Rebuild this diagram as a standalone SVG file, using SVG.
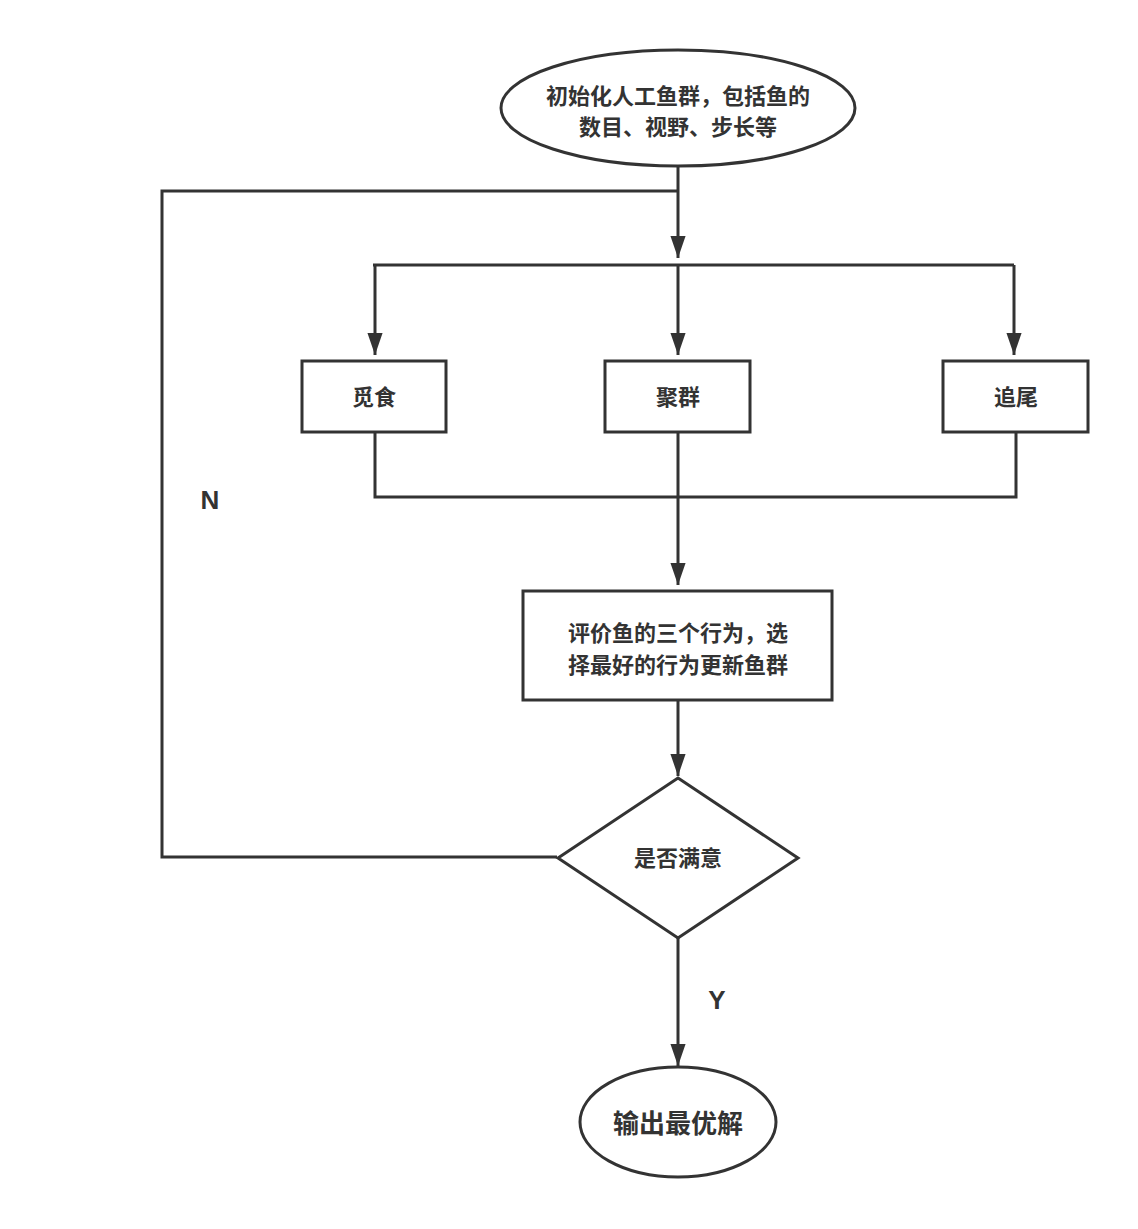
<svg xmlns="http://www.w3.org/2000/svg" width="1138" height="1229" viewBox="0 0 1138 1229">
<style>
.s{fill:#fff;stroke:#333;stroke-width:3}
.l{fill:none;stroke:#333;stroke-width:3}
.t{font-family:"Noto Sans CJK SC","Liberation Sans",sans-serif;font-weight:bold;font-size:22px;fill:#333;text-anchor:middle}
.lb{font-family:"Liberation Sans",sans-serif;font-weight:bold;font-size:26px;fill:#333;text-anchor:middle}
</style>
<defs><marker id="a" markerWidth="20" markerHeight="30" refX="10" refY="30" orient="auto" markerUnits="userSpaceOnUse" viewBox="0 0 20 30"><path d="M0,0 L20,0 L10,30 Z" fill="#333" transform="rotate(-90 10 15) translate(-5 5)"/></marker>
<marker id="b" markerWidth="22" markerHeight="32" refX="32" refY="11" orient="auto" markerUnits="userSpaceOnUse" viewBox="0 0 32 22"><path d="M0,0 L32,11 L0,22 Z" fill="#333"/></marker></defs>
<g id="connectors">
<path class="l" d="M678,166 V258" marker-end="url(#b)"/>
<path class="l" d="M678,191 H162 V857 H557"/>
<path class="l" d="M373,265 H1014"/>
<path class="l" d="M375,265 V355" marker-end="url(#b)"/>
<path class="l" d="M678,265 V355" marker-end="url(#b)"/>
<path class="l" d="M1014,265 V355" marker-end="url(#b)"/>
<path class="l" d="M375,432 V497 H1016 V432"/>
<path class="l" d="M678,432 V585" marker-end="url(#b)"/>
<path class="l" d="M678,700 V776" marker-end="url(#b)"/>
<path class="l" d="M678,938 V1066" marker-end="url(#b)"/>
<text class="lb" x="210" y="509">N</text>
<text class="lb" x="717" y="1009">Y</text>
</g>
<g id="start"><ellipse class="s" cx="678" cy="108" rx="177" ry="58"/><text class="t" x="678" y="104">初始化人工鱼群，包括鱼的</text><text class="t" x="678" y="135">数目、视野、步长等</text></g>
<g id="n1"><rect class="s" x="302" y="361" width="144" height="71"/><text class="t" x="374" y="405">觅食</text></g>
<g id="n2"><rect class="s" x="605" y="361" width="145" height="71"/><text class="t" x="678" y="405">聚群</text></g>
<g id="n3"><rect class="s" x="943" y="361" width="145" height="71"/><text class="t" x="1016" y="405">追尾</text></g>
<g id="eval"><rect class="s" x="523" y="591" width="309" height="109"/><text class="t" x="678" y="641">评价鱼的三个行为，选</text><text class="t" x="678" y="673">择最好的行为更新鱼群</text></g>
<g id="dec"><path class="s" d="M678,778 L798,858 L678,938 L558,858 Z"/><text class="t" x="678" y="866">是否满意</text></g>
<g id="end"><ellipse class="s" cx="678" cy="1122" rx="98" ry="55"/><text class="t" x="678" y="1133" style="font-size:26px">输出最优解</text></g>
</svg>
